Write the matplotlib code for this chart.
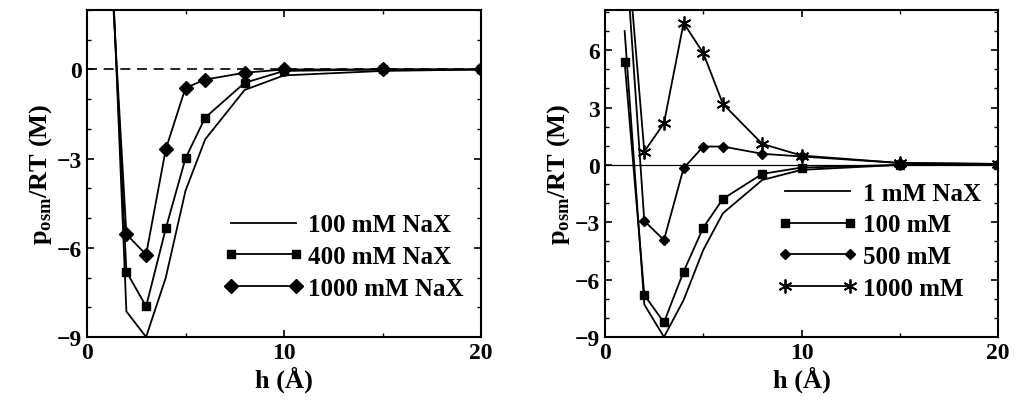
import matplotlib
matplotlib.use("Agg")
import matplotlib.pyplot as plt
from matplotlib.ticker import MultipleLocator

plt.rcParams['font.family'] = ['Liberation Serif', 'DejaVu Serif']
plt.rcParams['font.weight'] = 'bold'
plt.rcParams['mathtext.fontset'] = 'custom'
plt.rcParams['mathtext.rm'] = 'Liberation Serif:bold'
plt.rcParams['mathtext.bf'] = 'Liberation Serif:bold'

h = [1, 2, 3, 4, 5, 6, 8, 10, 15, 20]
# left panel
L100 = [8.0, -8.14, -9.0, -7.0, -4.08, -2.35, -0.69, -0.2, -0.05, 0.0]
L400 = [7.0, -6.8, -7.97, -5.35, -2.99, -1.62, -0.45, -0.05, 0.0, 0.0]
L1000 = [6.0, -5.54, -6.23, -2.68, -0.62, -0.34, -0.11, 0.0, 0.0, 0.0]
# right panel
R1 = [7.0, -7.3, -9.0, -7.07, -4.45, -2.53, -0.79, -0.26, 0.0, 0.0]
R100 = [5.36, -6.8, -8.24, -5.58, -3.28, -1.78, -0.47, -0.14, 0.0, 0.0]
R500 = [12.0, -2.93, -3.93, -0.17, 0.96, 0.96, 0.58, 0.44, 0.1, 0.05]
R1000 = [13.0, 0.7, 2.18, 7.42, 5.85, 3.19, 1.1, 0.49, 0.1, 0.05]

fig = plt.figure(figsize=(10.22, 4.14), dpi=100)
W, H = 1022, 414
ax1 = fig.add_axes([87/W, 1-338/H, (481-87)/W, (338-11)/H])
ax2 = fig.add_axes([605/W, 1-338/H, (998-605)/W, (338-11)/H])

ax1.plot(h, L100, color='k', lw=1.3, label='100 mM NaX')
ax1.plot(h[1:], L400[1:], color='k', lw=1.3, marker='s', ms=6, label='400 mM NaX')
ax1.plot(h[:2], L400[:2], color='k', lw=1.3)
ax1.plot(h[1:], L1000[1:], color='k', lw=1.3, marker='D', ms=7, label='1000 mM NaX')
ax1.plot(h[:2], L1000[:2], color='k', lw=1.3)
ax1.axhline(0, color='k', ls='--', lw=1.2, dashes=(6, 4))
ax1.set_ylim(-9, 2)
ax1.set_yticks([-9, -6, -3, 0])

ax2.plot(h, R1, color='k', lw=1.3, label='1 mM NaX')
ax2.plot(h, R100, color='k', lw=1.3, marker='s', ms=6, label='100 mM')
ax2.plot(h[1:], R500[1:], color='k', lw=1.3, marker='D', ms=5, label='500 mM')
ax2.plot(h[:2], R500[:2], color='k', lw=1.3)
ax2.plot(h[1:], R1000[1:], color='k', lw=1.3, marker=(6, 2, 0), ms=10, mew=1.3, label='1000 mM')
ax2.plot(h[:2], R1000[:2], color='k', lw=1.3)
ax2.axhline(0, color='k', lw=0.9)
ax2.set_ylim(-9, 8.1)
ax2.set_yticks([-9, -6, -3, 0, 3, 6])

for ax in (ax1, ax2):
    ax.set_xlim(0, 20)
    ax.set_xticks([0, 10, 20])
    ax.xaxis.set_minor_locator(MultipleLocator(5))
    ax.yaxis.set_minor_locator(MultipleLocator(1))
    ax.tick_params(which='both', direction='in', top=True, right=True, labelsize=17)
    ax.tick_params(which='major', length=5, width=1.2)
    ax.tick_params(which='minor', length=3, width=1)
    for s in ax.spines.values():
        s.set_linewidth(1.5)
    ax.set_xlabel('h (Å)', fontsize=19, fontweight='bold', labelpad=2)
    ax.set_ylabel(r'p$_{\mathbf{osm}}$/RT (M)', fontsize=19, fontweight='bold', labelpad=2)
    ax.legend(loc='lower right', frameon=False, numpoints=2, handlelength=3.2,
              handletextpad=0.2, labelspacing=0.35, borderaxespad=0.3,
              bbox_to_anchor=(1.0, 0.06), prop={'weight': 'bold', 'size': 18})

fig.savefig('out.png', dpi=100)
